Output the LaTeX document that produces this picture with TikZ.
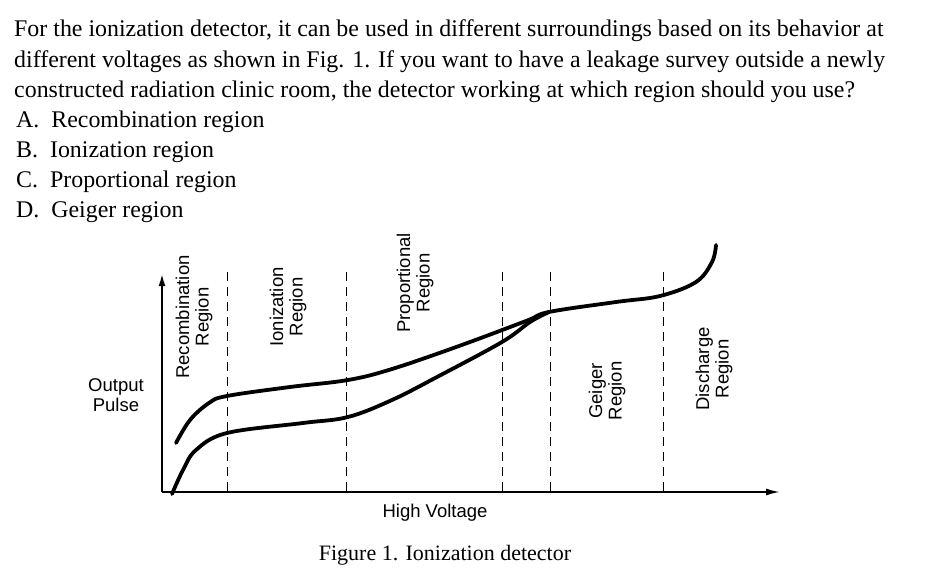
\documentclass[tikz,border=0pt]{standalone}
\usepackage{fontspec}
\setmainfont{Liberation Serif}
\setsansfont{Liberation Sans}
\usetikzlibrary{arrows.meta}
\begin{document}
\begin{tikzpicture}[x=1pt,y=-1pt,
  qline/.style={anchor=west,inner sep=0pt,font=\fontsize{23.9}{26}\selectfont},
  lab/.style={font=\sffamily\fontsize{18.5}{19.5}\selectfont,align=center,inner sep=0pt},
  vlab/.style={lab,rotate=90},
  curve/.style={line width=3.8pt,line cap=round},
  guide/.style={line width=0.8pt,dash pattern=on 9pt off 6pt}]
\useasboundingbox (0,0) rectangle (946,586);
\node[qline] (l1) at (14,31) {For the ionization detector, it can be used in different surroundings based on its behavior at};
\node[qline] (l2) at (14,62) {different voltages as shown in Fig. 1. If you want to have a leakage survey outside a newly};
\node[qline] (l3) at (14,92) {constructed radiation clinic room, the detector working at which region should you use?};
\node[qline] (l4) at (16,122) {A.\ \ Recombination region};
\node[qline] (l5) at (16,152) {B.\ \ Ionization region};
\node[qline] (l6) at (16,182) {C.\ \ Proportional region};
\node[qline] (l7) at (16,212) {D.\ \ Geiger region};
% axes
\coordinate (o) at (162,492);
\coordinate (ytop) at (162,274);
\coordinate (xend) at (780,492);
\draw[line width=1.8pt,-{Latex[length=12pt,width=7pt]}] (o) -- (ytop);
\draw[line width=1.8pt,-{Latex[length=14pt,width=7pt]}] (o) -- (xend);
% guides
\foreach \x/\n in {227/a,346/b,502/c,550/d,663/e}{
  \coordinate (g\n t) at (\x,272);
  \coordinate (g\n b) at (\x,492);
  \draw[guide] (g\n t) -- (g\n b);
}
% upper curve
\draw[curve] plot[smooth,tension=0.6] coordinates {(176,443) (190,420) (209,403) (227,396) (290,387) (348,380) (392,369) (459,346) (526,321) (549,312) (616,302) (660,296) (696,282) (712,262) (716,245)};
% lower curve
\draw[curve] plot[smooth,tension=0.6] coordinates {(172,494) (183,470) (196,450) (227,433) (303,423) (348,417) (392,400) (437,377) (502,342) (530,322) (549,312)};
% labels
\node[vlab] (rec) at (194,317) {Recombination\\Region};
\node[vlab] (ion) at (288,307) {Ionization\\Region};
\node[vlab] (pro) at (415,283) {Proportional\\Region};
\node[vlab] (gei) at (607,391) {Geiger\\Region};
\node[vlab] (dis) at (714,369) {Discharge\\Region};
\node[lab] (out) at (116,395) {Output\\Pulse};
\node[lab] (hv) at (435,513) {High Voltage};
\node[inner sep=0pt,font=\fontsize{22}{24}\selectfont] (cap) at (445,555) {Figure 1. Ionization detector};
\end{tikzpicture}
\end{document}
